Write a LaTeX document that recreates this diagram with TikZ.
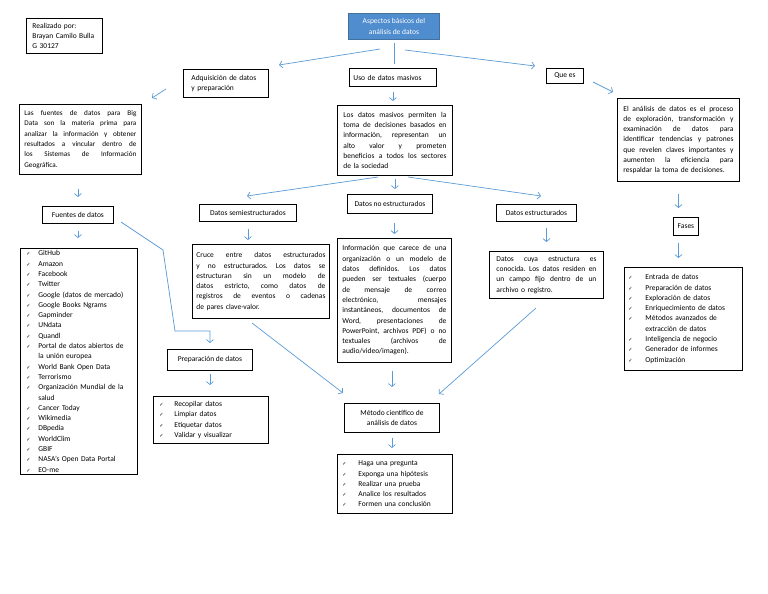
\documentclass[tikz,border=0pt]{standalone}
\usepackage{fontspec}
\setmainfont{Carlito}
\newfontfamily\symfont{DejaVu Sans}
\usetikzlibrary{arrows.meta}

\definecolor{lineblue}{RGB}{91,155,213}
\definecolor{titlefill}{RGB}{79,141,206}
\definecolor{titleline}{RGB}{65,113,156}

\setlength{\parindent}{0pt}
\frenchspacing
\newlength{\jlw}
\newcommand{\chkmark}{{\symfont\fontsize{5}{5}\selectfont ✓}}
\newcommand{\chkitem}[2][12pt]{\makebox[#1][l]{\chkmark}#2}
\newcommand{\chkcont}[2][12pt]{\makebox[#1][l]{}#2}
\newcommand{\jl}[1]{\leavevmode\hbox to\jlw{\spaceskip=\fontdimen2\font plus 1fil\relax #1}}

\tikzset{
    textbox/.style={draw, line width=0.9pt, anchor=north west, inner xsep=4pt, inner ysep=2pt,
        align=center, font=\fontsize{7.5}{10.3}\selectfont},
    parabox/.style={textbox, align=left, text width=#1, execute at begin node={\setlength{\jlw}{#1}}},
    listbox/.style={textbox, align=left},
    titlebox/.style={textbox, draw=titleline, fill=titlefill, text=white},
    con/.style={draw=lineblue, line width=0.7pt},
    arr/.style={con, -{Straight Barb[length=3pt,width=7pt]}},
}

\begin{document}
\begin{tikzpicture}[x=1pt, y=-1pt]
    \fill[white] (0,0) rectangle (768,594);
    \useasboundingbox (0,0) rectangle (768,594);

    \node[textbox, align=left, text width=64pt, minimum height=35pt, inner xsep=6pt] (autor) at (26,18)
        {Realizado por:\\Brayan Camilo Bulla\\G 30127};
    \node[titlebox, minimum width=91pt, minimum height=26pt] (titulo) at (348,13)
        {Aspectos básicos del\\análisis de datos};

    \node[textbox, align=left, text width=69pt, minimum height=28pt, inner xsep=8pt] (adq) at (183,69)
        {Adquisición de datos\\y preparación};
    \node[textbox, align=left, text width=79pt, minimum height=18pt] (uso) at (349,68) {Uso de datos masivos};
    \node[textbox, minimum width=37pt, minimum height=15pt] (quees) at (546,68) {Que es};

    \node[parabox=112pt, minimum height=70pt, inner xsep=5pt, font=\fontsize{7.2}{10.3}\selectfont] (fuentesp) at (19,104) {%
        \jl{Las fuentes de datos para Big}\\
        \jl{Data son la materia prima para}\\
        \jl{analizar la información y obtener}\\
        \jl{resultados a vincular dentro de}\\
        \jl{los Sistemas de Información}\\
        Geográfica.};
    \node[parabox=103pt, minimum height=70pt, inner xsep=6pt] (masivos) at (337,105) {%
        \jl{Los datos masivos permiten la}\\
        \jl{toma de decisiones basados en}\\
        \jl{información, representan un}\\
        \jl{alto valor y prometen}\\
        \jl{beneficios a todos los sectores}\\
        de la sociedad};
    \node[parabox=110pt, minimum height=83pt, inner xsep=6pt] (analisis) at (617,98) {%
        \jl{El análisis de datos es el proceso}\\
        \jl{de exploración, transformación y}\\
        \jl{examinación de datos para}\\
        \jl{identificar tendencias y patrones}\\
        \jl{que revelen claves importantes y}\\
        \jl{aumenten la eficiencia para}\\
        respaldar la toma de decisiones.};

    \node[textbox, minimum width=71pt, minimum height=17pt] (fuentes) at (42,206) {Fuentes de datos};
    \node[listbox, text width=105pt, minimum height=226pt, inner xsep=6pt, inner ysep=1pt] (fuenteslista) at (20,248) {%
        \chkitem{GitHub}\\
        \chkitem{Amazon}\\
        \chkitem{Facebook}\\
        \chkitem{Twitter}\\
        \chkitem{Google (datos de mercado)}\\
        \chkitem{Google Books Ngrams}\\
        \chkitem{Gapminder}\\
        \chkitem{UNdata}\\
        \chkitem{Quandl}\\
        \chkitem{Portal de datos abiertos de}\\
        \chkcont{la unión europea}\\
        \chkitem{World Bank Open Data}\\
        \chkitem{Terrorismo}\\
        \chkitem{Organización Mundial de la}\\
        \chkcont{salud}\\
        \chkitem{Cancer Today}\\
        \chkitem{Wikimedia}\\
        \chkitem{DBpedia}\\
        \chkitem{WorldClim}\\
        \chkitem{GBIF}\\
        \chkitem{NASA's Open Data Portal}\\
        \chkitem{EO-me}};

    \node[textbox, minimum width=97pt, minimum height=17pt] (semi) at (199,204) {Datos semiestructurados};
    \node[parabox=129pt, minimum height=74pt] (cruce) at (192,244) {%
        \jl{Cruce entre datos estructurados}\\
        \jl{y no estructurados. Los datos se}\\
        \jl{estructuran sin un modelo de}\\
        \jl{datos estricto, como datos de}\\
        \jl{registros de eventos o cadenas}\\
        de pares clave-valor.};

    \node[textbox, minimum width=85pt, minimum height=19pt] (noestr) at (347,194) {Datos no estructurados};
    \node[parabox=104pt, minimum height=124pt, inner xsep=5pt] (info) at (337,238) {%
        \jl{Información que carece de una}\\
        \jl{organización o un modelo de}\\
        \jl{datos definidos. Los datos}\\
        \jl{pueden ser textuales (cuerpo}\\
        \jl{de mensaje de correo}\\
        \jl{electrónico, mensajes}\\
        \jl{instantáneos, documentos de}\\
        \jl{Word, presentaciones de}\\
        \jl{PowerPoint, archivos PDF) o no}\\
        \jl{textuales (archivos de}\\
        audio/video/imagen).};

    \node[textbox, minimum width=80pt, minimum height=17pt] (estr) at (496,204) {Datos estructurados};
    \node[parabox=100pt, minimum height=47pt, inner xsep=7pt] (cuya) at (489,251) {%
        \jl{Datos cuya estructura es}\\
        \jl{conocida. Los datos residen en}\\
        \jl{un campo fijo dentro de un}\\
        archivo o registro.};

    \node[textbox, minimum width=25pt, minimum height=18pt] (fases) at (673,217) {Fases};
    \node[listbox, text width=110pt, minimum height=103pt] (faseslista) at (624,267) {%
        \chkitem[17pt]{Entrada de datos}\\
        \chkitem[17pt]{Preparación de datos}\\
        \chkitem[17pt]{Exploración de datos}\\
        \chkitem[17pt]{Enriquecimiento de datos}\\
        \chkitem[17pt]{Métodos avanzados de}\\
        \chkcont[17pt]{extracción de datos}\\
        \chkitem[17pt]{Inteligencia de negocio}\\
        \chkitem[17pt]{Generador de informes}\\
        \chkitem[17pt]{Optimización}};

    \node[textbox, minimum width=85pt, minimum height=21pt] (prep) at (167,349) {Preparación de datos};
    \node[listbox, text width=103pt, minimum height=47pt, inner xsep=6pt] (preplista) at (153,396) {%
        \chkitem[15pt]{Recopilar datos}\\
        \chkitem[15pt]{Limpiar datos}\\
        \chkitem[15pt]{Etiquetar datos}\\
        \chkitem[15pt]{Validar y visualizar}};

    \node[textbox, minimum width=95pt, minimum height=29pt] (metodo) at (344,403)
        {Método científico de\\análisis de datos};
    \node[listbox, text width=105pt, minimum height=59pt, inner xsep=5pt] (metodolista) at (337,454) {%
        \chkitem[16pt]{Haga una pregunta}\\
        \chkitem[16pt]{Exponga una hipótesis}\\
        \chkitem[16pt]{Realizar una prueba}\\
        \chkitem[16pt]{Analice los resultados}\\
        \chkitem[16pt]{Formen una conclusión}};

    \coordinate (t1) at (380,49);
    \coordinate (t2) at (279,65);
    \coordinate (t3) at (405,50);
    \coordinate (t4) at (535,66);
    \coordinate (q1) at (166,89);
    \coordinate (q2) at (152,98);
    \coordinate (q3) at (593,82);
    \coordinate (q4) at (613,92);
    \coordinate (m1) at (378,177);
    \coordinate (m2) at (247,196);
    \coordinate (m3) at (408,177);
    \coordinate (m4) at (541,196);
    \coordinate (f1) at (121,222);
    \coordinate (f2) at (163,250);
    \coordinate (f3) at (175,331);
    \coordinate (c1) at (252,323);
    \coordinate (c2) at (343,393);
    \coordinate (c3) at (536,308);
    \coordinate (c4) at (439,394);

    \draw[arr] (t1) -- (t2);
    \draw[con, shorten <=3pt, shorten >=4pt] (titulo.south) -- (titulo.south |- uso.north);
    \draw[arr] (t3) -- (t4);
    \draw[arr] (q1) -- (q2);
    \draw[arr] (q3) -- (q4);
    \draw[arr, shorten <=5pt, shorten >=4pt] (uso.south) -- (uso.south |- masivos.north);

    \draw[arr, shorten <=14pt, shorten >=9pt] (fuentes.north |- fuentesp.south) -- (fuentes.north);
    \draw[arr, shorten <=7pt, shorten >=10pt] (fuentes.south) -- (fuentes.south |- fuenteslista.north);

    \draw[arr] (m1) -- (m2);
    \draw[arr, shorten <=3pt, shorten >=5pt] (masivos.south) -- (masivos.south |- noestr.north);
    \draw[arr] (m3) -- (m4);

    \draw[arr, shorten <=7pt, shorten >=4pt] (semi.south) -- (semi.south |- cruce.north);
    \draw[arr, shorten <=9pt, shorten >=4pt] (info.north |- noestr.south) -- (info.north);
    \draw[arr, shorten <=6pt, shorten >=9pt] (cuya.north |- estr.south) -- (cuya.north);

    \draw[arr, shorten <=12pt, shorten >=9pt] (analisis.south) -- (analisis.south |- fases.north);
    \draw[arr, shorten <=7pt, shorten >=9pt] (analisis.south |- fases.south) -- (analisis.south |- faseslista.north);

    \draw[arr, shorten >=6pt] (f1) -- (f2) -- (f3) -- (f3 -| prep.north) -- (prep.north);
    \draw[arr, shorten <=3pt, shorten >=11pt] (prep.south) -- (prep.south |- preplista.north);

    \draw[arr] (c1) -- (c2);
    \draw[arr, shorten <=8pt, shorten >=16pt] (info.south -| metodo.north) -- (metodo.north);
    \draw[arr] (c3) -- (c4);
    \draw[arr, shorten <=5pt, shorten >=6pt] (metodo.south) -- (metodo.south |- metodolista.north);
\end{tikzpicture}
\end{document}
